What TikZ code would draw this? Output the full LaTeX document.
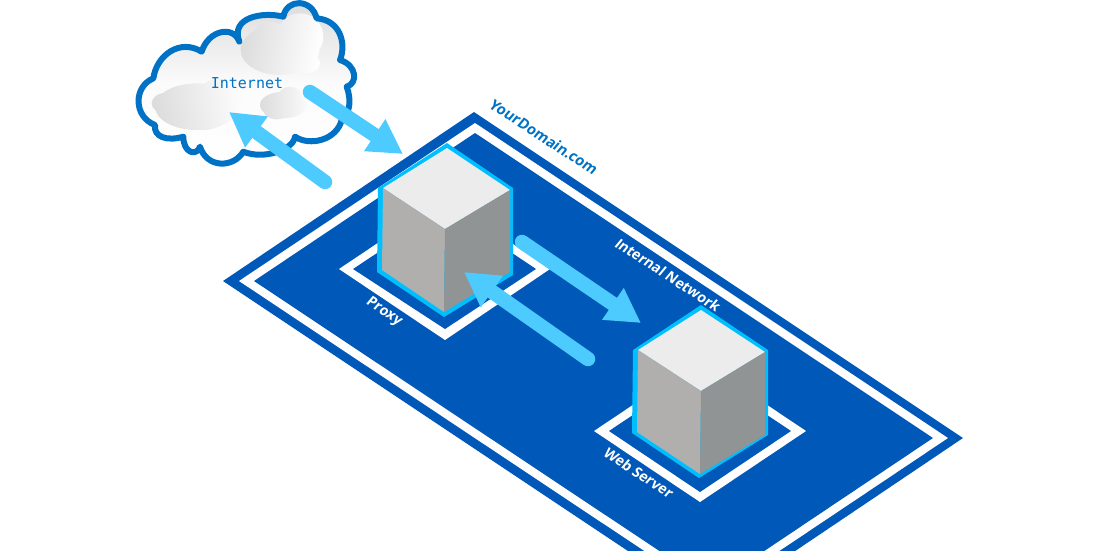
\documentclass[tikz,border=0pt]{standalone}
\usepackage{fontspec}
\setmainfont{Open Sans}
\newfontfamily\monof{DejaVu Sans Mono}
\usetikzlibrary{arrows.meta}
\definecolor{domainblue}{HTML}{0059B8}
\definecolor{cloudblue}{HTML}{0072C6}
\definecolor{flowblue}{HTML}{4DCBFF}
\definecolor{cubeedge}{HTML}{00BFFF}
\definecolor{cubetop}{HTML}{ECECEC}
\definecolor{cubeleft}{HTML}{B0AFAD}
\definecolor{cuberight}{HTML}{909495}
\definecolor{puff}{HTML}{DCDCDC}
\tikzset{
  flow/.style={draw=flowblue,line width=14.5pt,line cap=round,
    -{Triangle[length=34pt,width=36pt,color=flowblue]}},
  iso/.style={cm={.84,-.545,.66,.80,(0,0)}},
  plabel/.style={iso,text=white,font=\bfseries\fontsize{14}{15}\selectfont,inner sep=0pt},
  dlabel/.style={iso,text=cloudblue,font=\bfseries\fontsize{14.5}{15}\selectfont,inner sep=0pt},
}
\begin{document}
\begin{tikzpicture}[x=1pt,y=-1pt]
\useasboundingbox (0,0) rectangle (1100,550);
\clip (0,0) rectangle (1100,550);
% platform
\fill[domainblue] (474,112) -- (963,438) -- (712,607) -- (223,281) -- cycle;
\fill[white] (475,123) -- (948,438) -- (712,596) -- (239,281) -- cycle;
\fill[domainblue] (475,133) -- (933,438) -- (712,586) -- (254,281) -- cycle;
% proxy pad
\fill[white] (445,198) -- (550,269) -- (445,340) -- (339,269) -- cycle;
\fill[domainblue] (445,208) -- (536,269) -- (445,329) -- (353,269) -- cycle;
% web pad
\fill[white] (700,360) -- (806,431) -- (700,502) -- (594,431) -- cycle;
\fill[domainblue] (700,370) -- (791,431) -- (700,492) -- (609,431) -- cycle;
% proxy cube
\fill[cubeedge] (447,143) -- (513,188) -- (513,275) -- (444,317) -- (377,272) -- (378,188) -- cycle;
\fill[cubetop] (447,148) -- (510,190) -- (445,229) -- (383,188) -- cycle;
\fill[cubeleft] (383,188) -- (445,229) -- (444,312) -- (382,270) -- cycle;
\fill[cuberight] (510,190) -- (445,229) -- (444,312) -- (510,272) -- cycle;
% web cube
\fill[cubeedge] (701,305) -- (768,350) -- (768,435) -- (699,478) -- (632,433) -- (633,350) -- cycle;
\fill[cubetop] (701,310) -- (765,352) -- (701,391) -- (638,350) -- cycle;
\fill[cubeleft] (638,350) -- (701,391) -- (700,474) -- (637,432) -- cycle;
\fill[cuberight] (765,352) -- (701,391) -- (700,474) -- (765,435) -- cycle;
% cloud
\begin{scope}[shift={(120pt,0pt)},x=0.33333pt,y=-0.33333pt]
\def\cloudpath{(100,235) .. controls (110,165) and (180,115) .. (245,155)
  .. controls (265,90) and (340,75) .. (358,125)
  .. controls (330,50) and (430,35) .. (490,50)
  .. controls (500,-5) and (575,-5) .. (590,55)
  .. controls (660,60) and (680,130) .. (660,180)
  .. controls (710,195) and (715,250) .. (680,260)
  .. controls (695,300) and (690,340) .. (665,360)
  .. controls (650,420) and (570,440) .. (525,410)
  .. controls (520,450) and (430,480) .. (370,455)
  .. controls (340,505) and (260,505) .. (240,440)
  .. controls (230,470) and (190,460) .. (190,410)
  .. controls (140,425) and (100,410) .. (105,375)
  .. controls (40,350) and (40,260) .. (100,235) -- cycle}
\begin{scope}
\clip \cloudpath;
\shade[top color=cubetop!85!gray,bottom color=white,middle color=white!97!gray] (40,0) rectangle (720,500);
\shade[left color=puff,right color=white!90!puff,shading angle=100]
  (230,320) ellipse[x radius=125,y radius=70]
  (140,310) ellipse[x radius=45,y radius=32]
  (300,290) ellipse[x radius=65,y radius=55]
  (250,355) ellipse[x radius=65,y radius=35];
\shade[left color=puff,right color=white!85!puff]
  (490,315) ellipse[x radius=70,y radius=40]
  (510,290) ellipse[x radius=35,y radius=30]
  (470,330) ellipse[x radius=40,y radius=28];
\shade[left color=puff,right color=white,shading angle=80]
  (480,150) ellipse[x radius=118,y radius=75]
  (540,110) ellipse[x radius=70,y radius=70]
  (450,115) ellipse[x radius=50,y radius=50]
  (560,190) ellipse[x radius=40,y radius=30];
\end{scope}
\draw[cloudblue,line width=6pt,line join=round] \cloudpath;
\node[text=cloudblue,font=\monof\fontsize{15}{16}\selectfont,inner sep=0pt] (internet) at (381,250) {Internet};
\end{scope}
% flow ends
\coordinate (inA) at (310,92);
\coordinate (inB) at (403,154);
\coordinate (outA) at (325,182);
\coordinate (outB) at (229,112);
\coordinate (reqA) at (522,242);
\coordinate (reqB) at (641,323);
\coordinate (repA) at (588,359);
\coordinate (repB) at (464,272);
\draw[flow] (inA) -- (inB);
\draw[flow] (outA) -- (outB);
\draw[flow] (reqA) -- (reqB);
\draw[flow] (repA) -- (repB);
% labels
\node[dlabel] (domain) at (544,137) {YourDomain.com};
\node[plabel] (network) at (668,275) {Internal Network};
\node[plabel] (proxy) at (384,312) {Proxy};
\node[plabel] (web) at (639,473) {Web Server};
\end{tikzpicture}
\end{document}
